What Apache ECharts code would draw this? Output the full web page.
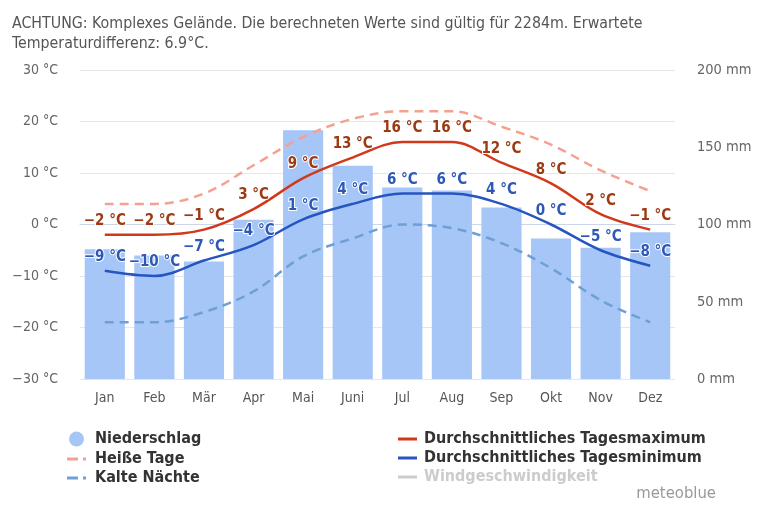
<!DOCTYPE html>
<html>
<head>
    <meta charset="utf-8">
    <title>Klimadiagramm</title>
    <script src="https://cdn.jsdelivr.net/npm/echarts@6/dist/echarts.min.js"></script>
    <style>
        html, body { margin: 0; padding: 0; background: #fff; }
        #chart { width: 768px; height: 512px; }
    </style>
</head>
<body>
<div id="chart"></div>
<script>
    // Monate
    var months = ['Jan', 'Feb', 'Mär', 'Apr', 'Mai', 'Juni', 'Jul', 'Aug', 'Sep', 'Okt', 'Nov', 'Dez'];
    // Niederschlag in mm
    var niederschlag = [84, 80, 76, 103, 161, 138, 124, 122, 111, 91, 85, 95];
    // Temperaturen in °C
    var tagesMax = [-2, -2, -1, 3, 9, 13, 16, 16, 12, 8, 2, -1];
    var tagesMin = [-9, -10, -7, -4, 1, 4, 6, 6, 4, 0, -5, -8];
    var heisseTage = [4, 4, 6, 11.5, 17, 20.5, 22, 22, 19, 15.5, 10.5, 6.5];
    var kalteNaechte = [-19, -19, -17, -13, -6.2, -2.7, 0, -0.7, -3.6, -8.5, -14.7, -19];
    var wind = [];

    var tempTicks = [-30, -20, -10, 0, 10, 20, 30];
    var mmTicks = [0, 50, 100, 150, 200];

    var FONT = '"DejaVu Sans Condensed", "DejaVu Sans", sans-serif';

    function minus(v) {
        return v < 0 ? '\u2212' + Math.abs(v) : '' + v;
    }

    function legendText(pad) {
        return { fontFamily: FONT, fontSize: 16, fontWeight: 'bold', color: '#333', padding: [0, 0, 0, pad] };
    }

    // Legendensymbol: Strich + Punkt
    var dashIcon = 'path://M0,0L11,0L11,3L0,3Z M16,0L19,0L19,3L16,3Z';

    var myChart = echarts.init(document.getElementById('chart'));
    myChart.setOption({
        animation: false,
        textStyle: { fontFamily: FONT },
        title: {
            text: 'ACHTUNG: Komplexes Gelände. Die berechneten Werte sind gültig für 2284m. Erwartete\nTemperaturdifferenz: 6.9°C.',
            left: 7,
            top: 9,
            textStyle: { fontFamily: FONT, fontSize: 15.8, fontWeight: 'normal', color: '#555', lineHeight: 20 }
        },
        graphic: [{
            type: 'text',
            right: 52,
            top: 485,
            style: { text: 'meteoblue', fill: '#999', font: '16.5px ' + FONT }
        }],
        grid: { left: 80, right: 93, top: 70, bottom: 133 },
        legend: [{
            orient: 'vertical',
            left: 64,
            top: 426,
            itemWidth: 15,
            itemHeight: 15,
            textStyle: legendText(6),
            data: [{ name: 'Niederschlag', icon: 'circle' }]
        }, {
            orient: 'vertical',
            left: 62,
            top: 446,
            itemWidth: 19,
            itemHeight: 3,
            itemGap: 3,
            textStyle: legendText(4),
            data: [{ name: 'Heiße Tage', icon: dashIcon }, { name: 'Kalte Nächte', icon: dashIcon }]
        }, {
            orient: 'vertical',
            left: 393,
            top: 426,
            itemWidth: 19,
            itemHeight: 3,
            itemGap: 3,
            inactiveColor: '#ccc',
            selected: { 'Windgeschwindigkeit': false },
            textStyle: legendText(2),
            data: [
                { name: 'Durchschnittliches Tagesmaximum', icon: 'rect' },
                { name: 'Durchschnittliches Tagesminimum', icon: 'rect' },
                { name: 'Windgeschwindigkeit', icon: 'rect' }
            ]
        }],
        xAxis: {
            type: 'category',
            data: months,
            axisLine: { lineStyle: { color: '#ccd6eb' } },
            axisTick: { show: false },
            axisLabel: { color: '#555', fontSize: 14, margin: 12, fontFamily: FONT }
        },
        yAxis: [{
            type: 'value',
            min: tempTicks[0],
            max: tempTicks[tempTicks.length - 1],
            interval: 10,
            axisLine: { show: false },
            axisTick: { show: false },
            splitLine: { lineStyle: { color: '#e6e6e6' } },
            axisLabel: {
                color: '#666', fontSize: 14, margin: 22, fontFamily: FONT,
                formatter: function (v) { return minus(v) + ' °C'; }
            }
        }, {
            type: 'value',
            position: 'right',
            min: mmTicks[0],
            max: mmTicks[mmTicks.length - 1],
            interval: 50,
            axisLine: { show: false },
            axisTick: { show: false },
            splitLine: { show: false },
            axisLabel: { color: '#666', fontSize: 14.5, margin: 22, fontFamily: FONT, formatter: '{value} mm' }
        }],
        series: [{
            name: 'Niederschlag',
            type: 'bar',
            yAxisIndex: 1,
            data: niederschlag,
            barCategoryGap: '19%',
            itemStyle: { color: '#a7c6f8' },
            z: 1
        }, {
            name: 'Heiße Tage',
            type: 'line',
            data: heisseTage,
            smooth: 0.35,
            symbol: 'none',
            itemStyle: { color: '#f4a191' },
            lineStyle: { color: '#f4a191', width: 2.5, type: [9, 6] },
            z: 2
        }, {
            name: 'Kalte Nächte',
            type: 'line',
            data: kalteNaechte,
            smooth: 0.35,
            symbol: 'none',
            itemStyle: { color: '#6e9fd5' },
            lineStyle: { color: '#6e9fd5', width: 2.5, type: [9, 6] },
            z: 2
        }, {
            name: 'Durchschnittliches Tagesmaximum',
            type: 'line',
            data: tagesMax,
            smooth: 0.35,
            symbol: 'circle',
            symbolSize: 0.1,
            itemStyle: { color: '#d2381a' },
            lineStyle: { color: '#d2381a', width: 2.5 },
            label: {
                show: true, position: 'top', distance: 6,
                color: '#9c3a14', fontSize: 15, fontWeight: 'bold', fontFamily: FONT,
                textBorderColor: '#fff', textBorderWidth: 2,
                formatter: function (p) { return minus(p.value) + ' °C'; }
            },
            z: 3
        }, {
            name: 'Durchschnittliches Tagesminimum',
            type: 'line',
            data: tagesMin,
            smooth: 0.35,
            symbol: 'circle',
            symbolSize: 0.1,
            itemStyle: { color: '#2655bf' },
            lineStyle: { color: '#2655bf', width: 2.5 },
            label: {
                show: true, position: 'top', distance: 6,
                color: '#2d58b5', fontSize: 15, fontWeight: 'bold', fontFamily: FONT,
                textBorderColor: '#fff', textBorderWidth: 2,
                formatter: function (p) { return minus(p.value) + ' °C'; }
            },
            z: 3
        }, {
            name: 'Windgeschwindigkeit',
            type: 'line',
            data: wind,
            itemStyle: { color: '#aaaaaa' },
            lineStyle: { color: '#aaaaaa' }
        }]
    });
</script>
</body>
</html>
